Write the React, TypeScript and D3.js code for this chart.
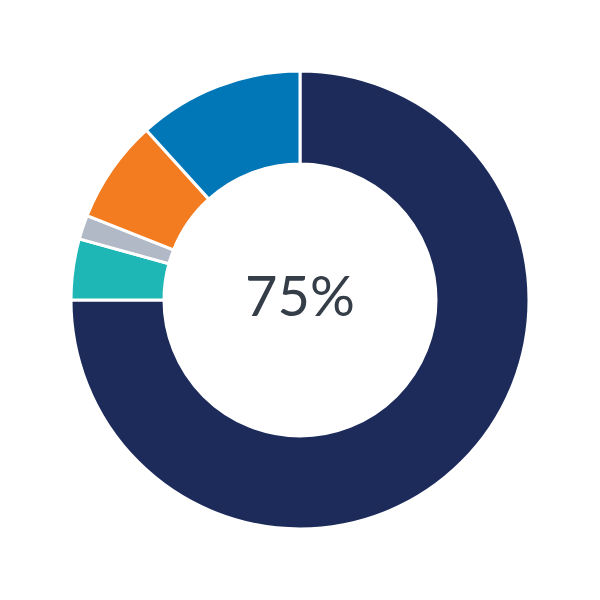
import React from "react";
import * as d3 from "d3";

const categories = ["A", "B", "C", "D", "E"];
const values = [75, 4.3, 1.7, 7.3, 11.7];
const colors = ["#1c2b59", "#1fb6b6", "#b1b8c6", "#f37b20", "#0277b8"];
const centerLabel = "75%";

function App() {
  const width = 600;
  const height = 600;
  const cx = 300;
  const cy = 300;

  const pie = d3
    .pie<number>()
    .sort(null)
    .value((d) => d);
  const arcs = pie(values);

  const arc = d3
    .arc<d3.PieArcDatum<number>>()
    .innerRadius(136)
    .outerRadius(229);

  return (
    <svg
      width={width}
      height={height}
      style={{ position: "absolute", left: 0, top: 0 }}
    >
      <rect width={width} height={height} fill="#ffffff" />
      <g transform={`translate(${cx},${cy})`}>
        {arcs.map((a, i) => (
          <path
            key={categories[i]}
            d={arc(a) || ""}
            fill={colors[i]}
            stroke="#ffffff"
            strokeWidth={3}
          />
        ))}
        <text
          x={0}
          y={-4}
          dy="0.36em"
          textAnchor="middle"
          fontFamily="Lato"
          fontSize={56}
          fill="#353e48"
        >
          {centerLabel}
        </text>
      </g>
    </svg>
  );
}

export default App;
